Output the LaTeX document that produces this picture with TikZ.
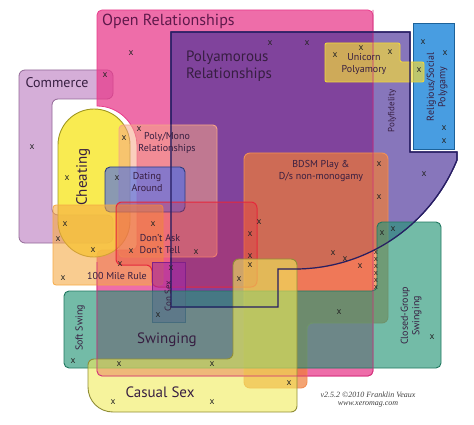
\documentclass[tikz,border=0pt]{standalone}
\usepackage{fontspec}
\setmainfont{PT Sans}
\newfontfamily\creditfont{Liberation Serif}

\definecolor{commerceC}{RGB}{195,140,200}
\definecolor{pinkOR}{RGB}{232,60,140}
\definecolor{cheatY}{RGB}{248,232,50}
\definecolor{polyP}{RGB}{70,45,150}
\definecolor{polyline}{RGB}{40,30,100}
\definecolor{religB}{RGB}{40,140,220}
\definecolor{unicY}{RGB}{240,215,60}
\definecolor{bdsmO}{RGB}{240,125,55}
\definecolor{pmPeach}{RGB}{245,165,135}
\definecolor{dateB}{RGB}{80,110,230}
\definecolor{mileO}{RGB}{245,170,70}
\definecolor{dadtR}{RGB}{230,40,60}
\definecolor{conM}{RGB}{160,40,170}
\definecolor{swingG}{RGB}{40,150,120}
\definecolor{casualY}{RGB}{240,235,90}
\definecolor{ink}{RGB}{55,30,65}
\definecolor{orText}{RGB}{95,25,75}

\begin{document}
\begin{tikzpicture}[x=1pt,y=-1pt,
  lbl/.style={font=\fontsize{10}{11.5}\selectfont,text=ink,align=center,inner sep=0pt},
  biglbl/.style={font=\fontsize{15}{17}\selectfont,text=ink,align=center,inner sep=0pt},
  xm/.style={font=\fontsize{9.5}{9.5}\selectfont,text=black!85,inner sep=0pt}]
\useasboundingbox (0,0) rectangle (474,425);

\filldraw[draw=commerceC!75!black,fill=commerceC,fill opacity=0.7,line width=0.8pt,rounded corners=6pt]
  (113,70) -- (19,70) -- (19,243) -- (113,243) -- (113,215) -- (52,215) -- (52,99) -- (113,99) -- cycle;
\filldraw[draw=pinkOR,fill=pinkOR,fill opacity=0.75,line width=0.8pt]
  (97,106) [rounded corners=5pt] -- (97,10) -- (373,10) -- (373,376) -- (97,376) -- (97,250) -- (137,250) [sharp corners] -- (137,146)
  .. controls (137,124) and (119,106) .. (97,106) -- cycle;
\filldraw[draw=cheatY!65!black,fill=cheatY,fill opacity=0.85,line width=0.9pt,rounded corners=36pt]
  (58,109) rectangle (130,257);
\filldraw[draw=polyline,fill=polyP,fill opacity=0.65,line width=1.2pt]
  (171,32) -- (410,32) -- (410,152) -- (457,152) -- (457,160) .. controls (430,226) and (366,269) .. (295,269)
  -- (278,269) -- (278,307) -- (171,307) -- cycle;
\draw[white,line width=4pt] (413,23) rectangle (454,149);
\filldraw[draw=religB!70!black,fill=religB,fill opacity=0.85,line width=0.9pt] (413,23) rectangle (454,149);
\filldraw[draw=unicY,fill=unicY,fill opacity=0.7,line width=0.9pt,rounded corners=2pt]
  (325,43) -- (400,43) -- (400,62) -- (424,62) -- (424,82) -- (325,82) -- cycle;
\filldraw[draw=bdsmO!85!white,fill=bdsmO,fill opacity=0.7,line width=0.9pt,rounded corners=6pt]
  (244,153) -- (388,153) -- (388,323) -- (307,323) -- (307,388) -- (244,388) -- cycle;
\filldraw[draw=pmPeach,fill=pmPeach,fill opacity=0.55,line width=0.9pt,rounded corners=4pt]
  (119,125) rectangle (217,257);
\filldraw[draw=dateB!55!black,fill=dateB,fill opacity=0.65,line width=0.9pt,rounded corners=5pt]
  (105,167) rectangle (185,212);
\filldraw[draw=mileO,fill=mileO,fill opacity=0.6,line width=0.8pt,rounded corners=3pt]
  (53,205) rectangle (163,285);
\filldraw[draw=dadtR,fill=dadtR,fill opacity=0.3,line width=1pt,rounded corners=6pt]
  (116,202) -- (257,202) -- (257,287) -- (152,287) -- (152,265) -- (116,265) -- cycle;
\filldraw[draw=conM!80!black,fill=conM,fill opacity=0.55,line width=0.8pt]
  (152,262) rectangle (185,322);
\filldraw[draw=swingG!80!black,fill=swingG,fill opacity=0.65,line width=0.9pt,rounded corners=5pt]
  (64,291) -- (377,291) -- (377,222) -- (441,222) -- (441,368) -- (64,368) -- cycle;
\filldraw[draw=casualY!60!black,fill=casualY,fill opacity=0.6,line width=0.9pt]
  (88,387) [rounded corners=6pt] -- (88,359) -- (233,359) -- (233,259) -- (297,259) -- (297,412) [sharp corners] -- (113,412)
  .. controls (99,412) and (88,401) .. (88,387) -- cycle;
\draw[pinkOR!90!black,line width=0.9pt,rounded corners=5pt] (97,262) -- (97,376) -- (373,376) -- (373,10);
\draw[polyline,line width=1.2pt]
  (171,32) -- (410,32) -- (410,152) -- (457,152) -- (457,160) .. controls (430,226) and (366,269) .. (295,269)
  -- (278,269) -- (278,307) -- (171,307) -- cycle;

\node[biglbl,anchor=west,text=orText,font=\fontsize{16}{18}\selectfont] (open) at (102,21) {Open Relationships};
\node[biglbl,align=left] (polyam) at (229,66) {Polyamorous\\Relationships};
\node[biglbl,font=\fontsize{14}{16}\selectfont] (commerce) at (57,83) {Commerce};
\node[biglbl,rotate=90] (cheating) at (83,177) {Cheating};
\node[lbl] (polymono) at (167,143) {Poly/Mono\\Relationships};
\node[lbl] (dating) at (147,182) {Dating\\Around};
\node[lbl] (unicorn) at (364,64) {Unicorn\\Polyamory};
\node[lbl,rotate=90] (relig) at (437,87) {Religious/Social\\Polygamy};
\node[lbl,rotate=90,font=\fontsize{9}{10}\selectfont] (polyfid) at (392,111) {Polyfidelity};
\node[lbl] (bdsm) at (321,171) {BDSM Play \&\\D/s non-monogamy};
\node[lbl] (dadt) at (160,244) {Don’t Ask\\Don’t Tell};
\node[lbl] (mile) at (117,276) {100 Mile Rule};
\node[lbl,rotate=90,font=\fontsize{9}{10}\selectfont] (consex) at (168,296) {Con Sex};
\node[lbl,rotate=90] (soft) at (80,328) {Soft Swing};
\node[biglbl] (swinging) at (167,340) {Swinging};
\node[biglbl] (casual) at (160,392) {Casual Sex};
\node[lbl,rotate=90] (closed) at (411,316) {Closed-Group\\Swinging};
\node[font=\creditfont\itshape\fontsize{8}{8}\selectfont,text=black!75,align=center,inner sep=0pt] (credit) at (368,400)
  {v2.5.2 ©2010 Franklin Veaux\\www.xeromag.com};

\foreach \px/\py [count=\i] in {131/53,105/75,32/147,67/178,117/178,124/138,139/129,
  270/43,307/43,335/55,361/48,390/52,419/70,423/42,445/53,444/128,444/141,379/164,379/197,424/174,
  65/224,58/239,93/250,153/224,131/251,120/264,196/252,63/278,171/268,158/315,
  259/222,250/234,250/256,250/265,239/279,333/253,345/259,360/266,382/233,393/229,339/312,432/337,289/383,
  73/361,119/364,212/364,113/402,212/402}
  \node[xm] (x\i) at (\px,\py) {x};
\foreach \py [count=\i] in {252,259,266,273,280,287}
  \node[xm,font=\fontsize{8}{8}\selectfont] (xs\i) at (376,\py) {x};
\end{tikzpicture}
\end{document}
